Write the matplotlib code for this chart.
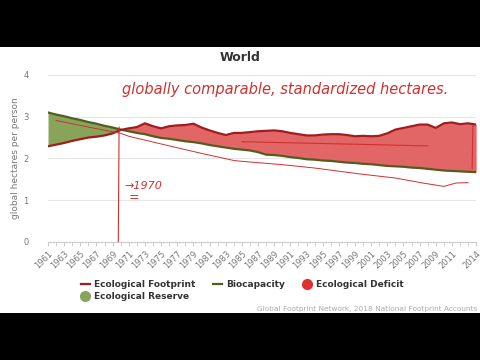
import numpy as np
import matplotlib
matplotlib.use("Agg")
from matplotlib import pyplot as plt
from matplotlib.patches import Rectangle
from matplotlib.lines import Line2D


years = np.arange(1961, 2015)

footprint = [2.29, 2.33, 2.37, 2.42, 2.46, 2.50, 2.52, 2.55, 2.60, 2.68,
             2.72, 2.75, 2.84, 2.77, 2.72, 2.77, 2.79, 2.80, 2.83, 2.74,
             2.67, 2.61, 2.56, 2.61, 2.61, 2.63, 2.65, 2.66, 2.67, 2.65,
             2.61, 2.58, 2.55, 2.55, 2.57, 2.58, 2.58, 2.56, 2.53, 2.54,
             2.53, 2.54, 2.60, 2.69, 2.73, 2.77, 2.81, 2.81, 2.73, 2.84,
             2.86, 2.82, 2.84, 2.81]

biocapacity = [3.10, 3.05, 3.01, 2.96, 2.92, 2.87, 2.83, 2.78, 2.74, 2.69,
               2.65, 2.61, 2.58, 2.53, 2.49, 2.47, 2.44, 2.41, 2.39, 2.36,
               2.32, 2.29, 2.26, 2.23, 2.21, 2.19, 2.15, 2.09, 2.08, 2.06,
               2.03, 2.01, 1.98, 1.97, 1.95, 1.94, 1.92, 1.90, 1.89, 1.87,
               1.86, 1.84, 1.82, 1.81, 1.80, 1.78, 1.77, 1.75, 1.73, 1.71,
               1.70, 1.69, 1.68, 1.67]

tick_years = list(range(1961, 2012, 2)) + [2014]

# hand-drawn annotation strokes (red pen on the video)
pen_years = [1962, 1966, 1970, 1971, 1976, 1980, 1984, 1985, 1990, 1994,
             1999.5, 2004, 2007.4, 2010, 2011.5, 2013]
pen_values = [2.91, 2.75, 2.60, 2.53, 2.30, 2.12, 1.95, 1.93, 1.85, 1.77,
              1.63, 1.53, 1.41, 1.33, 1.41, 1.42]
pen2_years = [1985, 2008]
pen2_values = [2.40, 2.30]

fp_col = "#a31c1c"
bc_col = "#4f5f1f"
reserve_col = "#88a45a"
deficit_col = "#e26666"
pen_col = "#d03030"

fig = plt.figure(figsize=(4.8, 3.6), dpi=100)
fig.patch.set_facecolor("black")

# white video frame between the black bars
bg = fig.add_axes([0, 47 / 360, 1, 266 / 360])
bg.set_axis_off()
bg.add_patch(Rectangle((0, 0), 1, 1, transform=bg.transAxes,
                       facecolor="white", edgecolor="none"))
bg.set_zorder(-5)

ax = fig.add_axes([0.10, 0.328, 0.892, 0.464])
ax.set_facecolor("white")

fp = np.array(footprint)
bc = np.array(biocapacity)
ax.fill_between(years, fp, bc, where=bc >= fp, interpolate=True,
                color=reserve_col, linewidth=0, zorder=2)
ax.fill_between(years, fp, bc, where=fp >= bc, interpolate=True,
                color=deficit_col, linewidth=0, zorder=2)
ax.plot(years, bc, color=bc_col, linewidth=1.6, zorder=3)
ax.plot(years, fp, color=fp_col, linewidth=1.6, zorder=4)

# pen annotations
ax.plot(pen_years, pen_values, color=pen_col, linewidth=0.7, zorder=5)
ax.plot(pen2_years, pen2_values, color=pen_col, linewidth=0.8, zorder=5)
ax.plot([1969.8, 1969.7], [2.75, 0.0], color=pen_col, linewidth=0.8, zorder=5)
ax.plot([2013.6, 2013.5], [2.78, 1.75], color=pen_col, linewidth=0.8, zorder=5)
ax.text(1970.4, 1.27, "→1970", color=pen_col, fontsize=8, fontstyle="italic", zorder=6)
ax.text(1971.0, 0.98, "=", color=pen_col, fontsize=9, zorder=6)
ax.text(1970.2, 3.55, "globally comparable, standardized hectares.", color=pen_col,
        fontsize=10.5, fontstyle="italic", fontweight="light", zorder=6)

ax.set_xlim(1961, 2014)
ax.set_ylim(0, 4)
ax.set_yticks([0, 1, 2, 3, 4])
ax.set_xticks(tick_years)
ax.set_xticks(years, minor=True)
ax.set_xticklabels([str(y) for y in tick_years], rotation=45, ha="right",
                   rotation_mode="anchor", fontsize=6, color="#777777")
ax.tick_params(axis="x", which="both", length=3, color="#cccccc", pad=2)
ax.tick_params(axis="y", length=0, labelsize=6, labelcolor="#777777", pad=14)
ax.grid(axis="y", color="#e6e6e6", linewidth=0.8)
ax.set_axisbelow(True)
for side in ["top", "right", "left"]:
    ax.spines[side].set_visible(False)
ax.spines["bottom"].set_color("#cccccc")
ax.set_ylabel("global hectares per person", fontsize=6.5, color="#777777", labelpad=2)

fig.text(0.5, 0.84, "World", ha="center", va="center", fontsize=9,
         fontweight="bold", color="#333333")

handles = [
    Line2D([], [], color=fp_col, linewidth=1.6),
    Line2D([], [], marker="o", linestyle="none", markersize=7,
           markerfacecolor=reserve_col, markeredgecolor=reserve_col),
    Line2D([], [], color=bc_col, linewidth=1.6),
    Line2D([], [], marker="o", linestyle="none", markersize=7,
           markerfacecolor="#e03030", markeredgecolor="#e03030"),
]
labels = ["Ecological Footprint", "Ecological Reserve", "Biocapacity", "Ecological Deficit"]
fig.legend(handles, labels, ncol=3, loc="center", bbox_to_anchor=(0.505, 0.193),
           frameon=False, prop={"size": 6.5, "weight": "bold"}, labelcolor="#333333",
           handlelength=1.0, handletextpad=0.5, columnspacing=1.9, labelspacing=0.3)

fig.text(0.995, 0.142, "Global Footprint Network, 2018 National Footprint Accounts",
         ha="right", va="center", fontsize=5.3, color="#aaaaaa")

plt.savefig("out.png", dpi=100, facecolor=fig.get_facecolor())
